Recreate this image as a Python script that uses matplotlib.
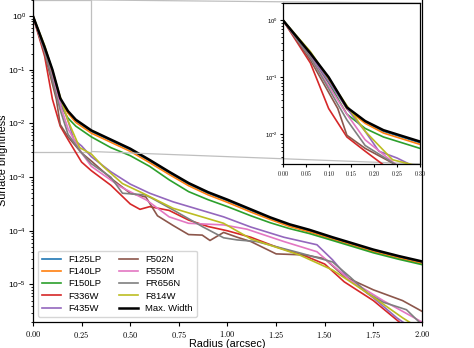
import matplotlib
matplotlib.use("Agg")
import matplotlib.pyplot as plt
import numpy as np
from matplotlib.ticker import FuncFormatter, FixedLocator, LogLocator, NullFormatter
from mpl_toolkits.axes_grid1.inset_locator import mark_inset

plt.rcParams["mathtext.fontset"] = "cm"
plt.rcParams["font.family"] = ["Liberation Sans", "DejaVu Sans"]

# Radial surface-brightness profiles (log10 of normalised surface brightness)
r_wide = [0, 0.06, 0.10, 0.14, 0.18, 0.22, 0.30, 0.40, 0.50, 0.60, 0.70, 0.80,
          0.90, 1.00, 1.12, 1.22, 1.32, 1.42, 1.54, 1.65, 1.75, 1.88, 2.00]
log_max_width = [0, -0.58, -1.00, -1.53, -1.77, -1.93, -2.13, -2.30, -2.47, -2.68, -2.90, -3.11,
                 -3.28, -3.42, -3.60, -3.75, -3.88, -3.98, -4.12, -4.24, -4.35, -4.47, -4.57]
log_f125lp = [0, -0.58, -1.01, -1.54, -1.79, -1.95, -2.15, -2.32, -2.49, -2.70, -2.92, -3.13,
              -3.30, -3.44, -3.62, -3.77, -3.90, -4.00, -4.14, -4.26, -4.37, -4.49, -4.59]
log_f140lp = [0, -0.60, -1.03, -1.56, -1.81, -1.98, -2.18, -2.35, -2.52, -2.73, -2.95, -3.16,
              -3.33, -3.47, -3.65, -3.79, -3.92, -4.02, -4.16, -4.28, -4.39, -4.51, -4.61]
log_f150lp = [0, -0.65, -1.10, -1.65, -1.90, -2.05, -2.25, -2.45, -2.60, -2.80, -3.05, -3.27,
              -3.42, -3.55, -3.72, -3.85, -3.96, -4.05, -4.18, -4.30, -4.41, -4.53, -4.63]

r_f336w = [0, 0.06, 0.10, 0.14, 0.18, 0.25, 0.30, 0.40, 0.50, 0.55, 0.60, 0.70, 0.80,
           0.90, 1.00, 1.12, 1.25, 1.40, 1.50, 1.60, 1.75, 1.90, 2.00]
log_f336w = [0, -0.75, -1.55, -2.05, -2.30, -2.72, -2.88, -3.15, -3.50, -3.60, -3.55, -3.62, -3.80,
             -3.92, -4.00, -4.12, -4.30, -4.47, -4.62, -4.95, -5.30, -5.75, -5.95]

r_f435w = [0, 0.06, 0.14, 0.18, 0.21, 0.25, 0.30, 0.40, 0.50, 0.60, 0.72, 0.85, 0.98,
           1.12, 1.29, 1.46, 1.54, 1.63, 1.75, 1.87, 2.00]
log_f435w = [0, -0.60, -1.55, -1.95, -2.30, -2.42, -2.62, -2.90, -3.13, -3.30, -3.46, -3.60, -3.74,
             -3.93, -4.12, -4.26, -4.54, -4.92, -5.25, -5.62, -5.95]

r_f502n = [0, 0.06, 0.12, 0.14, 0.18, 0.25, 0.30, 0.40, 0.50, 0.58, 0.64, 0.72, 0.80, 0.87,
           0.91, 0.98, 1.05, 1.12, 1.25, 1.40, 1.50, 1.60, 1.75, 1.90, 2.00]
log_f502n = [0, -0.70, -1.55, -2.02, -2.25, -2.55, -2.70, -3.02, -3.30, -3.37, -3.72, -3.90, -4.07,
             -4.08, -4.18, -4.03, -4.12, -4.20, -4.43, -4.45, -4.52, -4.85, -5.10, -5.30, -5.50]

r_f550m = [0, 0.06, 0.14, 0.18, 0.25, 0.30, 0.45, 0.585, 0.70, 0.80, 0.98, 1.10, 1.29,
           1.46, 1.63, 1.80, 2.00]
log_f550m = [0, -0.65, -1.65, -2.10, -2.55, -2.80, -3.18, -3.43, -3.74, -3.86, -3.89, -3.97, -4.20,
             -4.39, -4.92, -5.30, -5.70]

r_fr656n = [0, 0.06, 0.14, 0.18, 0.25, 0.30, 0.40, 0.46, 0.575, 0.61, 0.72, 0.875, 0.98,
            1.05, 1.15, 1.37, 1.54, 1.63, 1.72, 1.80, 1.92, 2.00]
log_fr656n = [0, -0.65, -1.75, -2.20, -2.55, -2.75, -3.00, -3.30, -3.33, -3.39, -3.61, -3.93, -4.13,
              -4.17, -4.20, -4.41, -4.58, -4.86, -5.16, -5.33, -5.47, -5.75]

r_f814w = [0, 0.06, 0.14, 0.18, 0.24, 0.30, 0.36, 0.46, 0.565, 0.72, 0.85, 0.98, 1.12,
           1.37, 1.54, 1.72, 1.90, 2.00]
log_f814w = [0, -0.55, -1.50, -1.95, -2.45, -2.57, -2.80, -3.12, -3.30, -3.58, -3.72, -3.86, -4.15,
             -4.45, -4.73, -5.16, -5.62, -5.85]

profiles = [
    ("F125LP", r_wide, log_f125lp, "C0", 1.2),
    ("F140LP", r_wide, log_f140lp, "C1", 1.2),
    ("F150LP", r_wide, log_f150lp, "C2", 1.2),
    ("F336W", r_f336w, log_f336w, "C3", 1.2),
    ("F435W", r_f435w, log_f435w, "C4", 1.2),
    ("F502N", r_f502n, log_f502n, "C5", 1.2),
    ("F550M", r_f550m, log_f550m, "C6", 1.2),
    ("FR656N", r_fr656n, log_fr656n, "C7", 1.2),
    ("F814W", r_f814w, log_f814w, "C8", 1.2),
    ("Max. Width", r_wide, log_max_width, "black", 1.8),
]

x_ticks = [0.0, 0.25, 0.5, 0.75, 1.0, 1.25, 1.5, 1.75, 2.0]
inset_x_ticks = [0.0, 0.05, 0.10, 0.15, 0.20, 0.25, 0.30]

fig = plt.figure(figsize=(4.74, 3.48), dpi=100)
ax = fig.add_axes([0.0696, 0.0747, 0.8207, 0.930])


def draw_profiles(a):
    for name, r, lg, col, lw in profiles:
        a.plot(r, 10.0 ** np.asarray(lg), color=col, lw=lw, label=name)


def style_axis(a, ticks, size, maj_len, min_len, pad):
    a.set_yscale("log")
    a.xaxis.set_major_locator(FixedLocator(ticks))
    a.xaxis.set_major_formatter(FuncFormatter(lambda v, p: rf"${v:.2f}$"))
    a.yaxis.set_major_locator(LogLocator(base=10, numticks=20))
    a.yaxis.set_minor_locator(LogLocator(base=10, subs=np.arange(2, 10), numticks=20))
    a.yaxis.set_minor_formatter(NullFormatter())
    a.tick_params(which="major", direction="out", labelsize=size, length=maj_len,
                  width=0.8, pad=pad)
    a.tick_params(which="minor", direction="out", length=min_len, width=0.6)
    for s in a.spines.values():
        s.set_linewidth(0.9)


draw_profiles(ax)
style_axis(ax, x_ticks, 6, 3.0, 1.8, 2.0)
ax.set_xlim(0, 2.0)
ax.set_ylim(2.0e-6, 2.14)
ax.set_xlabel("Radius (arcsec)", fontsize=7.8)
ax.set_ylabel("Surface brightness", fontsize=7.8)
ax.xaxis.set_label_coords(0.5, -0.053)
ax.yaxis.set_label_coords(-0.063, 0.5)

ax.legend(loc="lower left", ncol=2, fontsize=6.8, frameon=True, edgecolor="0.8",
          fancybox=True, handlelength=2.0, handletextpad=0.75, columnspacing=1.9,
          labelspacing=0.35, borderpad=0.45, borderaxespad=0.5)

axins = fig.add_axes([0.597, 0.529, 0.289, 0.462])
draw_profiles(axins)
style_axis(axins, inset_x_ticks, 4.2, 2.2, 1.2, 1.5)
axins.set_xlim(0, 0.30)
axins.set_ylim(3.0e-3, 2.0)
axins.patch.set_alpha(0)

mark_inset(ax, axins, loc1=1, loc2=4, fc="none", ec="0.75", lw=0.9)

fig.savefig("out.png", dpi=100)
